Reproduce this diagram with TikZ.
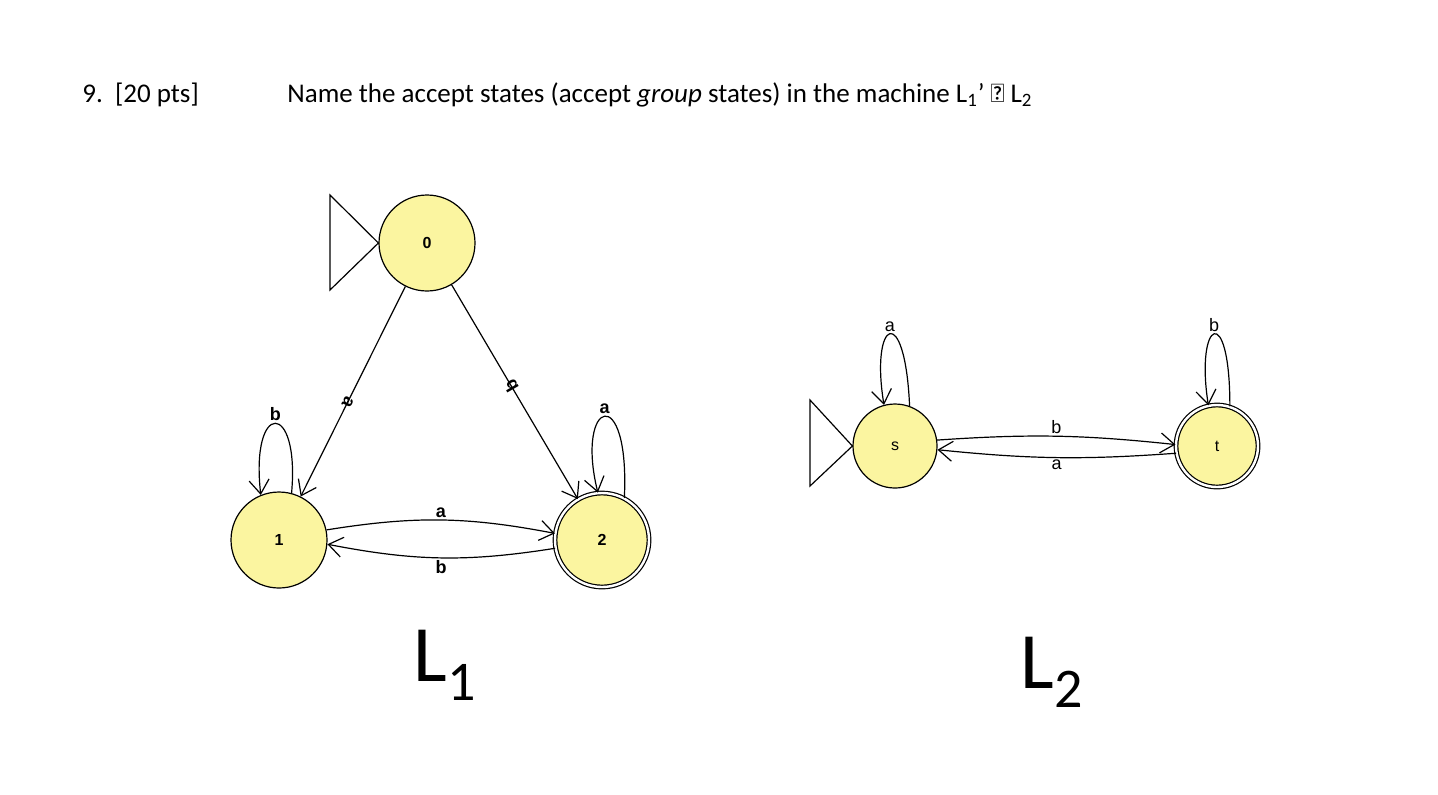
\documentclass[tikz,border=0pt]{standalone}
\usepackage{fontspec}
\setmainfont{Carlito}
\newfontfamily\jf{Liberation Sans}
\usetikzlibrary{arrows.meta}
\definecolor{st}{HTML}{FBF5A0}
\begin{document}
\begin{tikzpicture}[x=0.5pt,y=-0.5pt,
  state/.style={circle,draw,fill=st,line width=0.6pt,minimum size=#1,inner sep=0pt,font=\jf\bfseries\fontsize{8}{9}\selectfont},
  accst/.style={state=#1,double,double distance=1.2pt},
  ed/.style={line width=0.6pt,-{Straight Barb[length=7pt,width=10pt,line width=0.6pt]}},
  lb/.style={font=\jf\bfseries\fontsize{9}{10}\selectfont,inner sep=1pt},
  lt/.style={font=\jf\fontsize{9}{10}\selectfont,inner sep=1pt}]
\useasboundingbox (0,0) rectangle (1438,794);
\node[anchor=base west,font=\fontsize{13.5}{16}\selectfont,inner sep=0] (t1) at (82,102) {9.\ \ [20 pts]};
\node[anchor=base west,font=\fontsize{13.5}{16}\selectfont,inner sep=0] (t2) at (287,102) {Name the accept states (accept \textit{group} states) in the machine L\textsubscript{1}’ ∪ L\textsubscript{2}};
% L1
\node[state=48pt] (n0) at (427,243) {0};
\node[state=48pt] (n1) at (279,540) {1};
\node[accst=47pt] (n2) at (602,540) {2};
\draw[line width=0.6pt] (n0.west) -- (330,195) -- (330,290) -- cycle;
\draw[ed] (n0) -- node[lb,pos=0.55,rotate=243] {a} (n1);
\draw[ed] (n0) -- node[lb,pos=0.47,rotate=120] {b} (n2);
\draw[ed] (n1.75) .. controls (300,400) and (250,400) .. node[lb,above] {b} (n1.112);
\draw[ed] (n2.62) .. controls (630,380) and (575,400) .. node[lb,above,pos=0.5] {a} (n2.95);
\draw[ed] (n1.12) to[bend left=10] node[lb,above] {a} (n2.172);
\draw[ed] (n2.190) to[bend left=10] node[lb,below] {b} (n1.-5);
\node[font=\fontsize{40}{44}\selectfont] (L1) at (445,665) {L\textsubscript{1}};
% L2
\node[state=42pt,font=\jf\fontsize{8}{9}\selectfont] (s) at (895,446) {s};
\node[accst=41pt,font=\jf\fontsize{8}{9}\selectfont] (t) at (1217,446) {t};
\draw[line width=0.6pt] (s.west) -- (810,400) -- (810,486) -- cycle;
\draw[ed] (s.70) .. controls (905,300) and (870,320) .. node[lt,above] {a} (s.105);
\draw[ed] (t.72) .. controls (1230,300) and (1195,320) .. node[lt,above] {b} (t.102);
\draw[ed] (s.8) to[bend left=5] node[lt,above] {b} (t.178);
\draw[ed] (t.190) to[bend left=5] node[lt,below] {a} (s.-5);
\node[font=\fontsize{40}{44}\selectfont] (L2) at (1052,672) {L\textsubscript{2}};
\end{tikzpicture}
\end{document}
